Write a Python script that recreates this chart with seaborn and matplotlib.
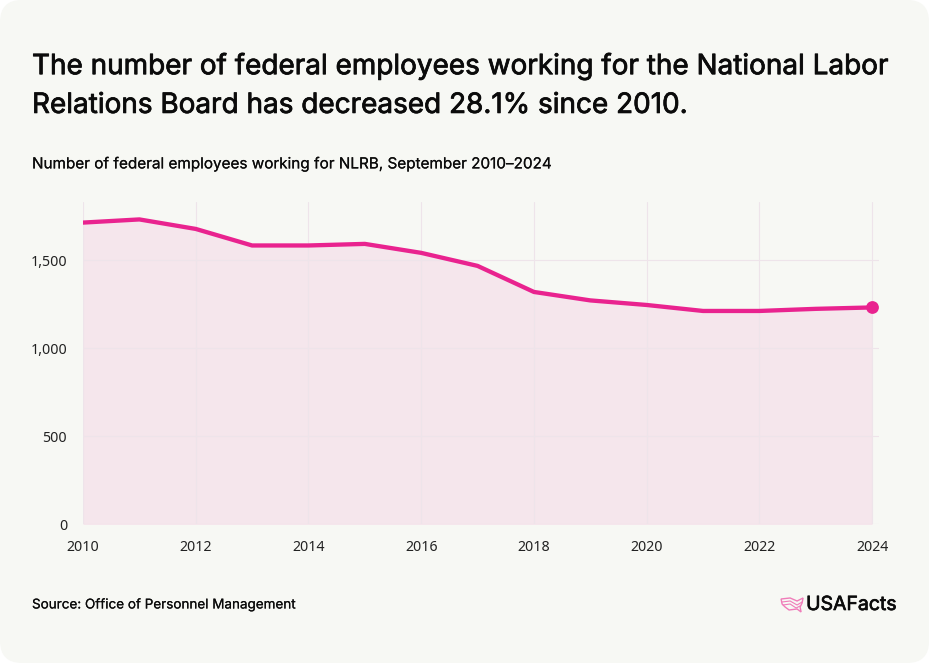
import matplotlib
matplotlib.use("Agg")
import matplotlib.pyplot as plt
from matplotlib.patches import FancyBboxPatch, Polygon
import matplotlib.patheffects as pe
import pandas as pd
import seaborn as sns

years = [2010, 2011, 2012, 2013, 2014, 2015, 2016, 2017, 2018, 2019, 2020, 2021, 2022, 2023, 2024]
employees = [1715, 1733, 1679, 1585, 1585, 1594, 1543, 1469, 1321, 1273, 1247, 1213, 1213, 1225, 1233]
x_ticks = [2010, 2012, 2014, 2016, 2018, 2020, 2022, 2024]
y_ticks = [0, 500, 1000, 1500]
title_lines = ["The number of federal employees working for the National Labor",
               "Relations Board has decreased 28.1% since 2010."]
subtitle = "Number of federal employees working for NLRB, September 2010\u20132024"
source = "Source: Office of Personnel Management"
brand = "USAFacts"

PINK = "#E9238F"
FILL = "#F5E6EC"
GRID = "#EEE4EA"
CARD = "#F7F8F4"
INK = "#0b0b0b"
W, H = 929, 663


def heavier(width, color=INK):
    """Thicken glyph outlines to reach a medium text weight."""
    return [pe.withStroke(linewidth=width, foreground=color)]


sns.set_theme(style="white")
plt.rcParams["font.family"] = ["Inter", "DejaVu Sans"]

fig = plt.figure(figsize=((W + 0.1) / 100, (H + 0.1) / 100), dpi=100, facecolor="white")

# Rounded card behind everything, laid out in pixel units
bg = fig.add_axes([0, 0, 1, 1], zorder=0)
bg.set_xlim(0, W)
bg.set_ylim(H, 0)
bg.axis("off")
bg.add_patch(FancyBboxPatch((0, 0), W, H, boxstyle="round,pad=0,rounding_size=22",
                            fc=CARD, ec="none"))

for i, line in enumerate(title_lines):
    bg.text(32, 66.5 + i * 39, line, fontsize=20.1, color=INK, va="center", ha="left",
            path_effects=heavier(0.55))
bg.text(32, 164, subtitle, fontsize=11.0, color=INK, va="center", ha="left",
        path_effects=heavier(0.1))
bg.text(32, 604.5, source, fontsize=9.7, color=INK, va="center", ha="left",
        path_effects=heavier(0.1))
bg.text(806, 605, brand, fontsize=14.0, color=INK, va="center", ha="left",
        path_effects=heavier(0.5))

# Small outlined map emblem beside the brand name
outline = [(781, 599), (790, 598), (797, 601), (803, 598), (802, 603), (800, 607),
           (801, 612), (797, 609), (789, 610), (785, 607), (782, 604)]
bg.add_patch(Polygon(outline, closed=True, fc="none", ec="#F07CB9", lw=1.0))
bg.plot([782, 790, 797, 802], [602, 601, 605, 602], color="#F07CB9", lw=0.8)
bg.plot([783, 790, 796, 800], [605, 604, 608, 606], color="#F07CB9", lw=0.8)

# Plot area: 2010-2024 spans x 83-872, 0 sits at y 524.5, 500 units = 88 px
x_left, x_right = 83.0, 879.0
y_bottom, y_top = 524.5, 202.0
ax = fig.add_axes([x_left / W, 1 - y_bottom / H, (x_right - x_left) / W, (y_bottom - y_top) / H],
                  zorder=1)
ax.patch.set_alpha(0)
ax.set_xlim(2010, 2010 + (x_right - x_left) / (789 / 14))
ax.set_ylim(0, (y_bottom - y_top) / 0.176)

frame = pd.DataFrame({"year": years, "employees": employees})
ax.fill_between(years, employees, 0, color=FILL, lw=0, zorder=1)
ax.set_xticks(x_ticks)
ax.set_yticks(y_ticks)
ax.grid(True, color=GRID, lw=0.8, zorder=2)
ax.set_axisbelow(False)
sns.lineplot(data=frame, x="year", y="employees", color=PINK, lw=3.1, ax=ax, zorder=3,
             solid_capstyle="round", errorbar=None)
ax.plot(years[-1], employees[-1], "o", color=PINK, ms=9.2, mew=0, zorder=4, clip_on=False)

ax.set_xlabel("")
ax.set_ylabel("")
sns.despine(ax=ax, left=True, bottom=True)
ax.tick_params(axis="both", length=0, labelsize=10.2, labelcolor="#222222")
ax.tick_params(axis="x", pad=11)
ax.tick_params(axis="y", pad=11.5)
ax.set_yticklabels([f"{v:,}" for v in y_ticks])
for label in ax.get_xticklabels() + ax.get_yticklabels():
    label.set_fontfamily(["Noto Sans", "DejaVu Sans"])

fig.savefig("out.png", dpi=100, facecolor="white")
